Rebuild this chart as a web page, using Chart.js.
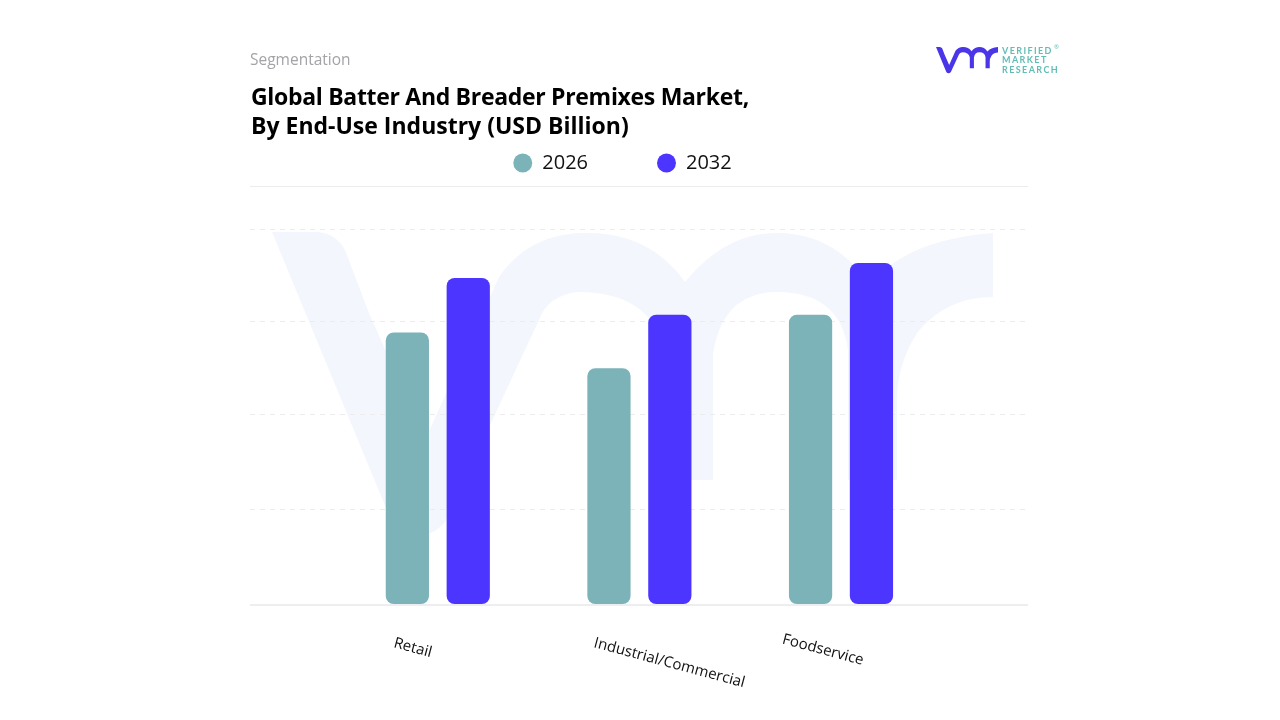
<!DOCTYPE html>
<html>
<head>
<meta charset="utf-8">
<title>Batter And Breader Premixes</title>
<script src="https://cdn.jsdelivr.net/npm/chart.js@4"></script>
<style>
  html, body { margin: 0; padding: 0; background: #fff; }
  body { width: 1280px; height: 720px; position: relative; overflow: hidden; font-family: "Open Sans", sans-serif; }
  #myChart, #mark { position: absolute; left: 0; top: 0; }
  #seg { position: absolute; left: 250px; top: 49px; font-size: 15.5px; line-height: 20px; color: #a3a3a8; }
  #title { position: absolute; left: 251px; top: 82px; font-size: 23px; line-height: 29px; font-weight: 700; color: #000; white-space: nowrap; }
  #title span { letter-spacing: -0.31px; }
  #brand { position: absolute; left: 1002px; top: 46px; font-family: Lato, sans-serif; font-size: 9px; line-height: 9.4px; letter-spacing: 1.4px; color: #63bdb5; font-weight: 700; }
  #reg { position: absolute; left: 1054px; top: 43px; font-size: 6px; color: #63bdb5; }
</style>
</head>
<body>

<svg id="mark" width="1280" height="720" viewBox="0 0 1280 720">
  <defs>
    <path id="vmr" d="M272 232 L315 232 Q335 232 345 250 L369 313 L425 440 L499 277 Q530 232 588 233 Q650 233 685 282 Q725 233 777 233 Q835 233 870 285 Q905 240 993 233 L993 297 Q946 297 917 333 Q897 365 897 400 L897 480 L848 480 L848 350 Q840 292 777 292 Q723 292 713 353 L713 480 L665 480 L665 350 Q650 292 578 292 Q548 295 539 320 L445 522 Q430 540 405 535 Q392 530 386 508 Z"/>
  </defs>
  <use href="#vmr" fill="#f4f6fd"/>
  <use href="#vmr" fill="#4b35e8" transform="translate(936 47) scale(0.086) translate(-272 -232)"/>
</svg>

<canvas id="myChart" width="1280" height="720"></canvas>

<div id="seg">Segmentation</div>
<div id="title"><span>Global Batter And Breader Premixes Market,</span><br>By End-Use Industry (USD Billion)</div>
<div id="brand">VERIFIED<br>MARKET<br>RESEARCH</div>
<div id="reg">®</div>

<script>
var categories = ["Retail", "Industrial/Commercial", "Foodservice"];
var values_2026 = [2.90, 2.52, 3.09];
var values_2032 = [3.48, 3.09, 3.64];
var grid_values = [0, 1.02, 2.03, 3.02, 4, 4.459];

var color_2026 = "#7bb3b9";
var color_2032 = "#4b35ff";

function to_points(values){
  return values.map(function(v, i){ return {x: i, y: v}; });
}

// category labels sit off their groups and slope down in the original
var label_shift = [[-25, 43], [30, 58], [-18, 45]];

var sloped_labels = {
  id: "sloped_labels",
  afterDraw: function(chart){
    var ctx = chart.ctx;
    var xs = chart.scales.x;
    var base = chart.chartArea.bottom;
    for(var i = 0; i < categories.length; i++){
      ctx.save();
      ctx.translate(xs.getPixelForValue(i) + label_shift[i][0], base + label_shift[i][1]);
      ctx.rotate(15 * Math.PI / 180);
      ctx.font = "15px 'Open Sans'";
      ctx.fillStyle = "#111";
      ctx.textAlign = "center";
      ctx.textBaseline = "middle";
      ctx.fillText(categories[i], 0, 0);
      ctx.restore();
    }
  }
};

// legend keeps its wide item gap without pushing the plot down
var short_legend = {
  id: "short_legend",
  beforeInit: function(chart){
    var fit = chart.legend.fit;
    chart.legend.fit = function(){
      fit.call(this);
      this.height = 102;
    };
  }
};

var chart = new Chart(document.getElementById("myChart").getContext("2d"), {
  type: "bar",
  data: {
    datasets: [
      { label: "2026", data: to_points(values_2026), backgroundColor: color_2026, borderRadius: 8, borderSkipped: false },
      { label: "2032", data: to_points(values_2032), backgroundColor: color_2032, borderRadius: 8, borderSkipped: false }
    ]
  },
  plugins: [sloped_labels, short_legend],
  options: {
    responsive: false,
    animation: false,
    devicePixelRatio: 1,
    categoryPercentage: 0.703,
    barPercentage: 0.71,
    layout: { padding: { left: 217, right: 252, top: 84, bottom: 107 } },
    plugins: {
      tooltip: { enabled: false },
      legend: {
        position: "top",
        labels: {
          usePointStyle: true,
          pointStyle: "circle",
          boxWidth: 19,
          boxHeight: 13.4,
          padding: 69,
          color: "#111",
          font: { family: "'Open Sans'", size: 20 }
        }
      }
    },
    scales: {
      x: {
        type: "linear",
        offset: false,
        bounds: "data",
        min: -0.9316,
        max: 2.9276,
        ticks: { display: false, stepSize: 1, includeBounds: false },
        grid: { display: false },
        border: { display: false }
      },
      y: {
        min: 0,
        max: 4.459,
        afterFit: function(scale){ scale.width = 33; },
        afterBuildTicks: function(scale){
          scale.ticks = grid_values.map(function(v){ return {value: v}; });
        },
        ticks: { display: false },
        grid: {
          drawTicks: false,
          color: function(c){ return c.tick.value == 0 ? "#eeeef1" : "#ececef"; },
          lineWidth: function(c){ return c.tick.value == 0 ? 2 : 1; }
        },
        border: {
          display: false,
          dash: function(c){ return (c.tick && c.tick.value > 0 && c.tick.value < 4.4) ? [5, 5] : []; }
        }
      }
    }
  }
});
</script>
</body>
</html>
